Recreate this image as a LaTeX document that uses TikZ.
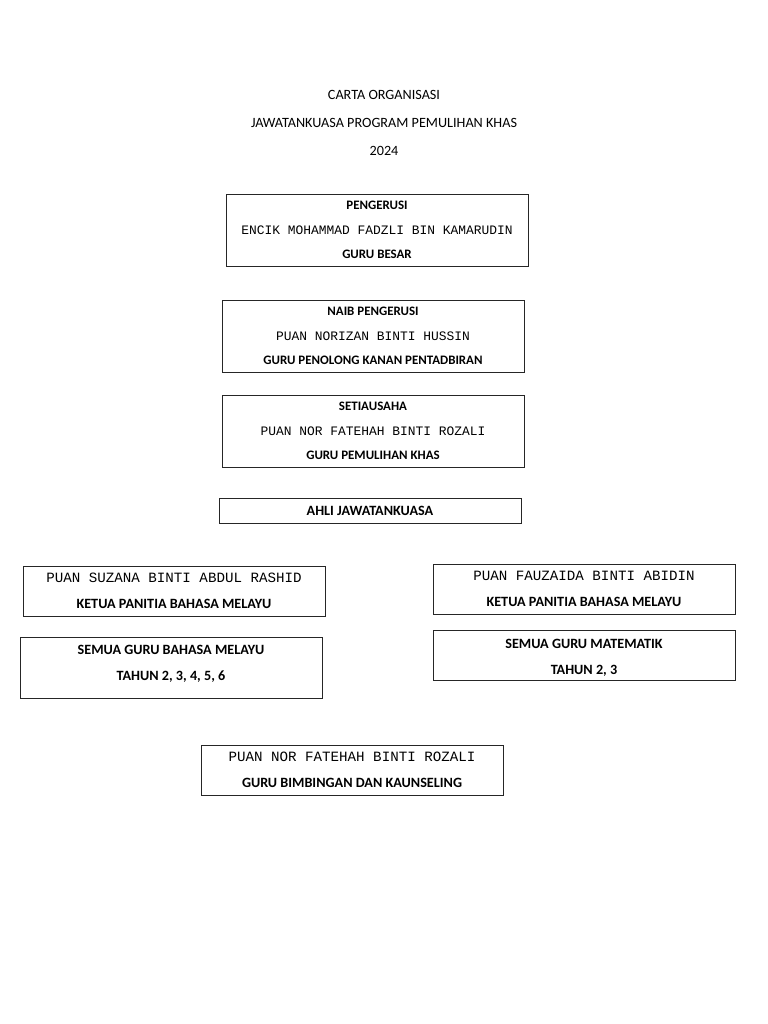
\documentclass[tikz,border=0pt]{standalone}
\usepackage{fontspec}
\setmainfont{Carlito}
\setmonofont{Liberation Mono}
\usepackage{tikz}
\usetikzlibrary{positioning}

\begin{document}
\begin{tikzpicture}[x=0.797pt,y=-0.797pt,
  ttl/.style={align=center,inner sep=0pt,font=\fontsize{11.3}{22.3}\selectfont},
  box/.style={draw=black!85,line width=0.6pt,align=center,inner sep=0pt,
              minimum width=240.7pt,font=\fontsize{10.3}{19.5}\selectfont},
  big/.style={font=\fontsize{11.3}{20.7}\selectfont},
  tall/.style={box,minimum height=57.4pt},
  mid/.style={box,big,minimum height=39.9pt},
  low/.style={box,minimum height=48.6pt},
  thin/.style={box,big,minimum height=19.9pt}]

\useasboundingbox (0,0) rectangle (768,1024);

\node[ttl] (title) at (384,123) {CARTA ORGANISASI\\JAWATANKUASA PROGRAM PEMULIHAN KHAS\\2024};

\node[tall] (chair) at (377,230) {\textbf{PENGERUSI}\\\texttt{ENCIK MOHAMMAD FADZLI BIN KAMARUDIN}\\\textbf{GURU BESAR}};
\node[tall] (vchair) at (373,336) {\textbf{NAIB PENGERUSI}\\\texttt{PUAN NORIZAN BINTI HUSSIN}\\\textbf{GURU PENOLONG KANAN PENTADBIRAN}};
\node[tall] (sec) at (373,431) {\textbf{SETIAUSAHA}\\\texttt{PUAN NOR FATEHAH BINTI ROZALI}\\\textbf{GURU PEMULIHAN KHAS}};
\node[thin] (ahli) at (370,510.5) {\textbf{AHLI JAWATANKUASA}};

\node[mid] (suzana) at (174,591) {\texttt{PUAN SUZANA BINTI ABDUL RASHID}\\\textbf{KETUA PANITIA BAHASA MELAYU}};
\node[mid] (fauzaida) at (584,589) {\texttt{PUAN FAUZAIDA BINTI ABIDIN}\\\textbf{KETUA PANITIA BAHASA MELAYU}};
\node[low] (semuabm) at (171,667.5) {};
\node[big,align=center] (semuabmtxt) at (171,664) {\textbf{SEMUA GURU BAHASA MELAYU}\\\textbf{TAHUN 2, 3, 4, 5, 6}};
\node[mid] (semuamt) at (584,655.5) {};
\node[big,align=center] (semuamttxt) at (584,657.5) {\textbf{SEMUA GURU MATEMATIK}\\\textbf{TAHUN 2, 3}};

\node[mid] (kaunsel) at (352,770) {\texttt{PUAN NOR FATEHAH BINTI ROZALI}\\\textbf{GURU BIMBINGAN DAN KAUNSELING}};
\end{tikzpicture}
\end{document}
